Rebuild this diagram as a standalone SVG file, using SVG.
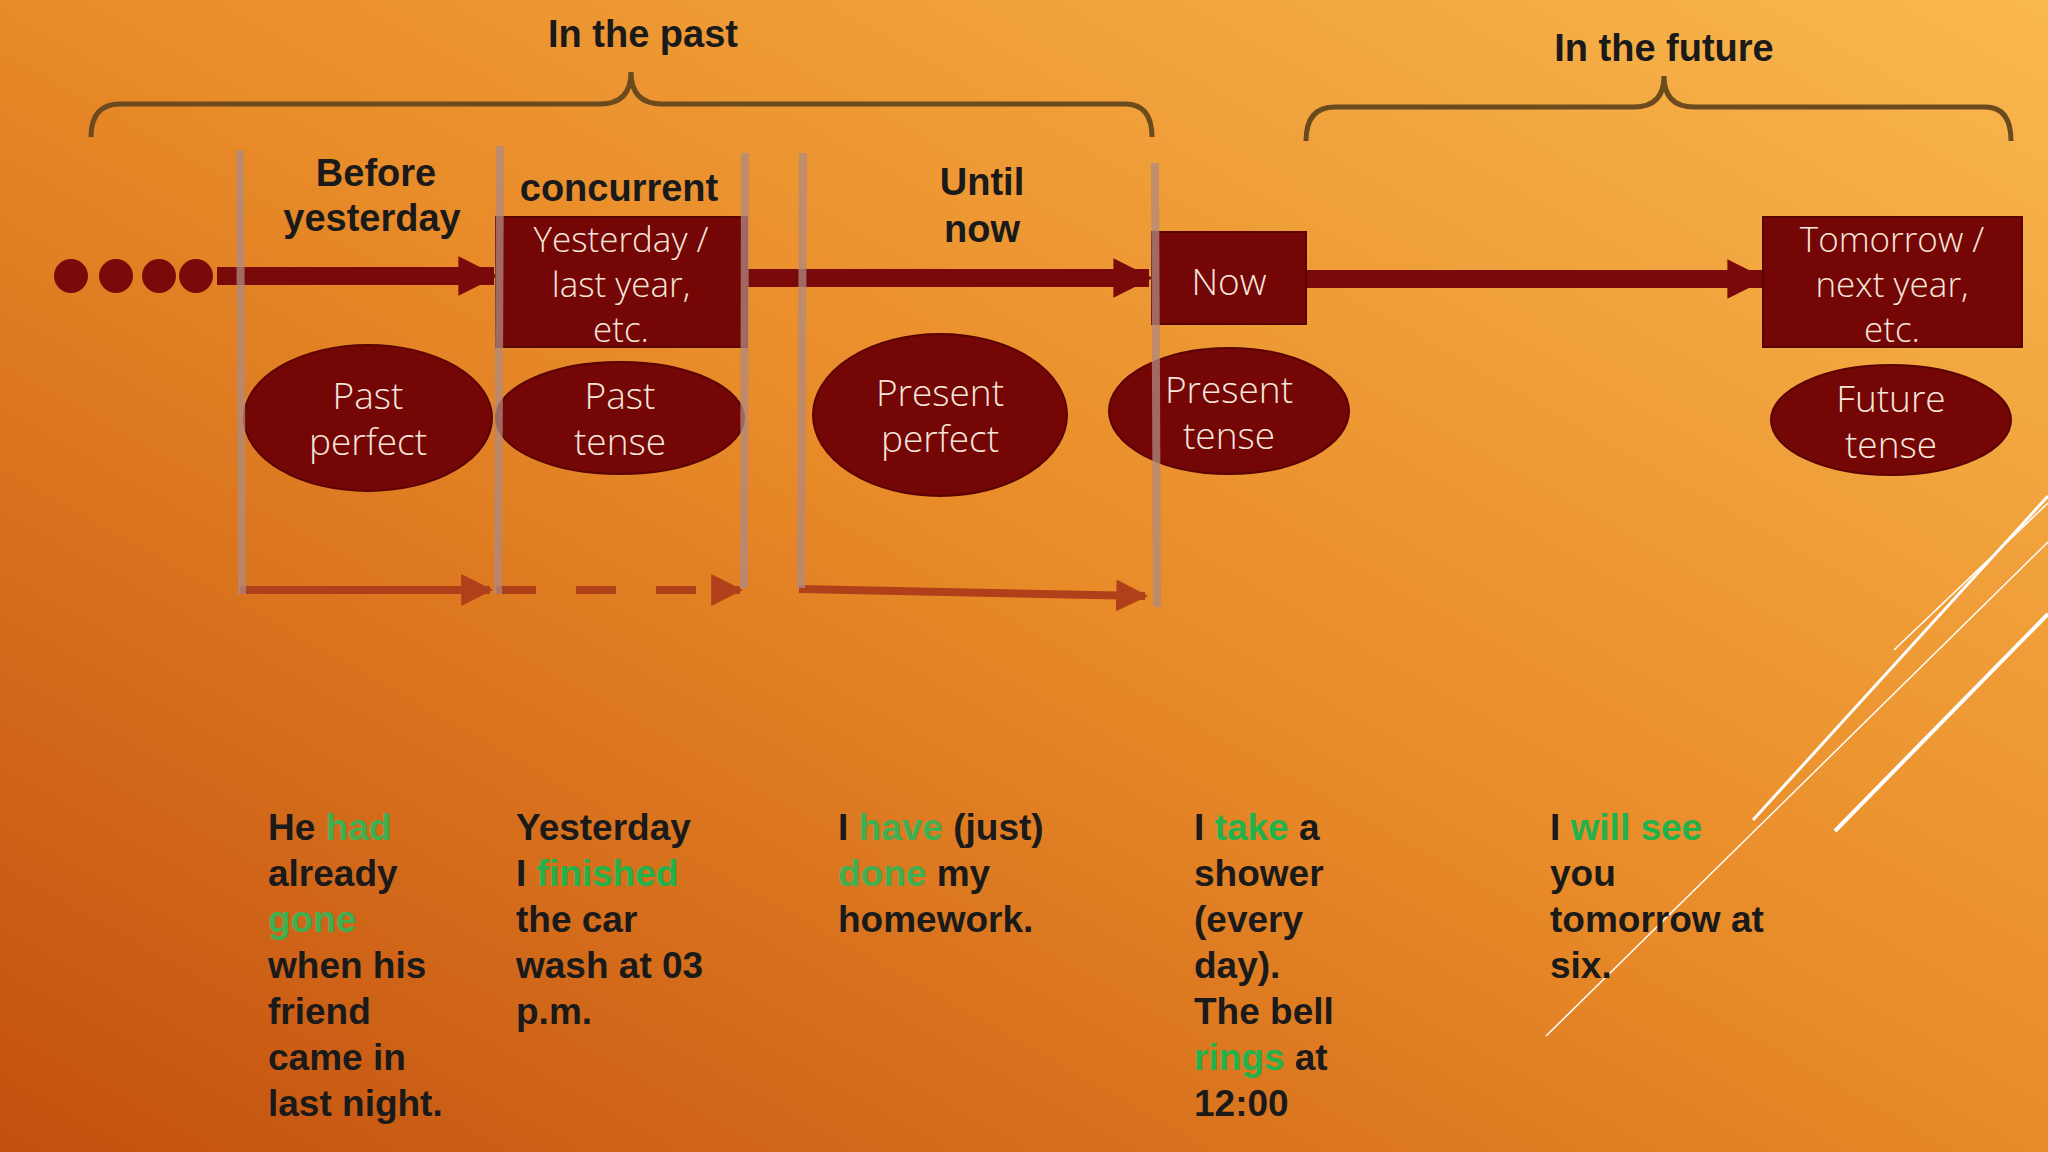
<svg xmlns="http://www.w3.org/2000/svg" width="2048" height="1152" viewBox="0 0 2048 1152">
<defs>
<linearGradient id="bg" x1="1" y1="0" x2="0" y2="1">
<stop offset="0" stop-color="#F9B84E"/><stop offset="0.5" stop-color="#E88A28"/><stop offset="1" stop-color="#C2500F"/>
</linearGradient>
<marker id="ah" viewBox="0 0 10 10" refX="9" refY="5" markerWidth="2.2" markerHeight="2.6" orient="auto"><path d="M0,0L10,5L0,10z" fill="#7A0A0A"/></marker>
<marker id="ah2" viewBox="0 0 10 10" refX="9" refY="5" markerWidth="4" markerHeight="4" orient="auto"><path d="M0,0L10,5L0,10z" fill="#B0401A"/></marker>
<style>
.lbl{font-family:"Liberation Sans",Arial,sans-serif;font-weight:bold;font-size:38px;fill:#1a1a1a;text-anchor:middle}
.box{fill:#750606;stroke:#5a0303;stroke-width:2}
.bt{font-family:"Open Sans","DejaVu Sans",sans-serif;font-weight:300;font-size:37px;fill:#F5E6DC;text-anchor:middle}
.bs{font-size:35px}
.ex{font-family:"Liberation Sans",Arial,sans-serif;font-weight:bold;font-size:37px;fill:#1a1a1a}
.g{fill:#22B24C}.g2{fill:#3FAF52}
.vl{stroke:#B08A80;stroke-width:8;opacity:0.75}
.br{fill:none;stroke:#6B4A1E;stroke-width:5}
.tl{stroke:#7A0A0A;stroke-width:18;marker-end:url(#ah)}
.ba{stroke:#B0401A;stroke-width:8;marker-end:url(#ah2)}
</style>
</defs>
<rect width="2048" height="1152" fill="url(#bg)"/>
<g id="deco" stroke="#fff">
<line x1="1753" y1="820" x2="2048" y2="496" stroke-width="3"/>
<line x1="1835" y1="831" x2="2048" y2="614" stroke-width="4"/>
<line x1="1894" y1="650" x2="2048" y2="503" stroke-width="1.5"/>
<line x1="1546" y1="1036" x2="2048" y2="542" stroke-width="1.5"/>
</g>
<g id="brackets">
<path class="br" d="M91,137 Q91,104 120,104 L600,104 Q631,104 631,72 Q631,104 662,104 L1125,104 Q1152,104 1152,137"/>
<text class="lbl" x="643" y="47">In the past</text>
<path class="br" d="M1306,141 Q1306,107 1335,107 L1634,107 Q1664,107 1664,76 Q1664,107 1694,107 L1985,107 Q2011,107 2011,141"/>
<text class="lbl" x="1664" y="61">In the future</text>
</g>
<g id="connectors">
<line class="tl" x1="217" y1="276" x2="494" y2="276"/>
<line class="tl" x1="747" y1="278" x2="1149" y2="278"/>
<line class="tl" x1="1306" y1="279" x2="1763" y2="279"/>
<line class="ba" x1="240" y1="590" x2="490" y2="590"/>
<line class="ba" x1="496" y1="590" x2="740" y2="590" stroke-dasharray="40,40"/>
<line class="ba" x1="799" y1="589" x2="1145" y2="596"/>
</g>
<g id="dots" fill="#7A0A0A">
<circle cx="71" cy="276" r="17"/><circle cx="116" cy="276" r="17"/><circle cx="159" cy="276" r="17"/><circle cx="196" cy="276" r="17"/>
</g>
<g id="yesterday"><rect class="box" x="496" y="217" width="251" height="130"/>
<text class="bt bs" x="621" y="252">Yesterday /</text><text class="bt bs" x="621" y="297">last year,</text><text class="bt bs" x="621" y="342">etc.</text></g>
<g id="now"><rect class="box" x="1152" y="232" width="154" height="92"/><text class="bt" x="1229" y="295">Now</text></g>
<g id="tomorrow"><rect class="box" x="1763" y="217" width="259" height="130"/>
<text class="bt bs" x="1892" y="252">Tomorrow /</text><text class="bt bs" x="1892" y="297">next year,</text><text class="bt bs" x="1892" y="342">etc.</text></g>
<g id="pastperfect"><ellipse class="box" cx="368" cy="418" rx="124" ry="73"/><text class="bt" x="368" y="409">Past</text><text class="bt" x="368" y="455">perfect</text></g>
<g id="pasttense"><ellipse class="box" cx="620" cy="418" rx="124" ry="56"/><text class="bt" x="620" y="409">Past</text><text class="bt" x="620" y="455">tense</text></g>
<g id="presentperfect"><ellipse class="box" cx="940" cy="415" rx="127" ry="81"/><text class="bt" x="940" y="406">Present</text><text class="bt" x="940" y="452">perfect</text></g>
<g id="presenttense"><ellipse class="box" cx="1229" cy="411" rx="120" ry="63"/><text class="bt" x="1229" y="403">Present</text><text class="bt" x="1229" y="449">tense</text></g>
<g id="futuretense"><ellipse class="box" cx="1891" cy="420" rx="120" ry="55"/><text class="bt" x="1891" y="412">Future</text><text class="bt" x="1891" y="458">tense</text></g>
<g id="verticals">
<line class="vl" x1="240" y1="150" x2="242" y2="594"/>
<line class="vl" x1="500" y1="146" x2="498" y2="594"/>
<line class="vl" x1="745" y1="153" x2="744" y2="588"/>
<line class="vl" x1="803" y1="153" x2="801" y2="588"/>
<line class="vl" x1="1155" y1="163" x2="1157" y2="607"/>
</g>
<g id="labels">
<text class="lbl" x="376" y="186">Before</text><text class="lbl" x="372" y="231">yesterday</text>
<text class="lbl" x="619" y="201">concurrent</text>
<text class="lbl" x="982" y="195">Until</text><text class="lbl" x="982" y="242">now</text>
</g>
<g id="examples" class="ex">
<text x="268" y="840">He <tspan class="g2">had</tspan></text>
<text x="268" y="886">already</text>
<text x="268" y="932" class="g2">gone</text>
<text x="268" y="978">when his</text>
<text x="268" y="1024">friend</text>
<text x="268" y="1070">came in</text>
<text x="268" y="1116">last night.</text>
<text x="516" y="840">Yesterday</text>
<text x="516" y="886">I <tspan class="g">finished</tspan></text>
<text x="516" y="932">the car</text>
<text x="516" y="978">wash at 03</text>
<text x="516" y="1024">p.m.</text>
<text x="838" y="840">I <tspan class="g2">have</tspan> (just)</text>
<text x="838" y="886"><tspan class="g2">done</tspan> my</text>
<text x="838" y="932">homework.</text>
<text x="1194" y="840">I <tspan class="g">take</tspan> a</text>
<text x="1194" y="886">shower</text>
<text x="1194" y="932">(every</text>
<text x="1194" y="978">day).</text>
<text x="1194" y="1024">The bell</text>
<text x="1194" y="1070"><tspan class="g">rings</tspan> at</text>
<text x="1194" y="1116">12:00</text>
<text x="1550" y="840">I <tspan class="g">will see</tspan></text>
<text x="1550" y="886">you</text>
<text x="1550" y="932">tomorrow at</text>
<text x="1550" y="978">six.</text>
</g>
</svg>
